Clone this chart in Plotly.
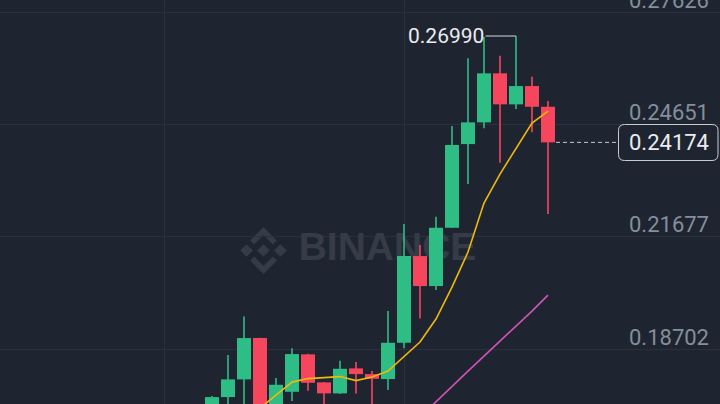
import plotly.graph_objects as go

# ---- data ----
idx = list(range(22))
opens = [0.17032, 0.17429, 0.17898, 0.18992, 0.16952, 0.17569, 0.18560, 0.17818, 0.17527, 0.18189, 0.18038,
         0.17906, 0.18867, 0.21163, 0.20369, 0.21913, 0.24129, 0.24704, 0.26002, 0.25181, 0.25665, 0.25117]
highs = [0.17456, 0.18541, 0.19566, 0.18998, 0.17932, 0.18719, 0.18575, 0.17826, 0.18390, 0.18356, 0.18118,
         0.19707, 0.22011, 0.21454, 0.22204, 0.24606, 0.26399, 0.26963, 0.26468, 0.26990, 0.25912, 0.25268]
lows = [0.16820, 0.17085, 0.17032, 0.16555, 0.16688, 0.17323, 0.17596, 0.17085, 0.17509, 0.17527, 0.16952,
        0.17614, 0.18719, 0.19513, 0.20263, 0.21905, 0.23070, 0.24545, 0.23634, 0.25056, 0.24439, 0.22275]
closes = [0.17429, 0.17898, 0.18992, 0.16820, 0.17755, 0.18568, 0.17808, 0.17527, 0.18179, 0.18038, 0.17914,
          0.18867, 0.21163, 0.20369, 0.21913, 0.24103, 0.24704, 0.26002, 0.25181, 0.25665, 0.25117, 0.24174]
ma7 = [None, None, 0.16820, 0.17138, 0.17482, 0.17826, 0.17919, 0.17946, 0.17972, 0.17866, 0.17959,
       0.18118, 0.18515, 0.18886, 0.19495, 0.20342, 0.21269, 0.22567, 0.23335, 0.24023, 0.24685, 0.25003]
ma25 = [None] * 13 + [0.16899, 0.17310, 0.17720, 0.18118, 0.18515, 0.18912, 0.19309, 0.19707, 0.20130]
tick_vals = [0.27626, 0.24651, 0.21677, 0.18702]
tick_labels = ["0.27626", "0.24651", "0.21677", "0.18702"]

W, H = 720, 404
BG = "#1f2530"
GRID = "#2b313b"
UP = "#2ebd85"
DOWN = "#f6465d"
XR = [-13.25, 31.75]
YR = [0.17246, 0.27944]

def X(px):
    return px / W

def Y(py):
    return 1 - py / H

fig = go.Figure()

# watermark on base axes (below data)
fig.add_trace(go.Scatter(x=[10.97], y=[0.21311], mode="text", text=["BINANCE"],
                         textfont=dict(family="Liberation Sans", size=39, color="#363c47", weight="bold"),
                         hoverinfo="skip", showlegend=False, xaxis="x", yaxis="y"))

colors = [UP if c >= o else DOWN for o, c in zip(opens, closes)]

# wicks
for col in (UP, DOWN):
    wx, wy = [], []
    for i, h, l, c in zip(idx, highs, lows, colors):
        if c == col:
            wx += [i, i, None]
            wy += [l, h, None]
    fig.add_trace(go.Scatter(x=wx, y=wy, mode="lines", line=dict(color=col, width=1.6),
                             hoverinfo="skip", showlegend=False, xaxis="x2", yaxis="y2"))

# bodies
fig.add_trace(go.Bar(x=idx, y=[abs(c - o) for o, c in zip(opens, closes)],
                     base=[min(o, c) for o, c in zip(opens, closes)],
                     width=0.875, marker=dict(color=colors, line=dict(width=0)),
                     showlegend=False, xaxis="x2", yaxis="y2"))

fig.add_trace(go.Scatter(x=idx, y=ma7, mode="lines", line=dict(color="#f0b90b", width=1.6),
                         showlegend=False, xaxis="x2", yaxis="y2"))
fig.add_trace(go.Scatter(x=idx, y=ma25, mode="lines", line=dict(color="#d152b8", width=1.6),
                         showlegend=False, xaxis="x2", yaxis="y2"))

shapes = []
# Binance logo (watermark)
cx, cy, s = 263.5, 250.5, 23.5
LOGO = "#363c47"

def poly(pts):
    d = "M " + " L ".join(f"{X(cx + px * s):.5f},{Y(cy + py * s):.5f}" for px, py in pts) + " Z"
    return dict(type="path", path=d, xref="paper", yref="paper", fillcolor=LOGO,
                line=dict(width=0), layer="below")

def diamond(dx, dy, r):
    return poly([(dx, dy - r), (dx + r, dy), (dx, dy + r), (dx - r, dy)])

shapes.append(diamond(0, 0, 0.27))
shapes.append(diamond(-0.72, 0, 0.27))
shapes.append(diamond(0.72, 0, 0.27))
shapes.append(poly([(0, -1), (0.57, -0.43), (0.4, -0.26), (0, -0.66), (-0.4, -0.26), (-0.57, -0.43)]))
shapes.append(poly([(0, 1), (0.57, 0.43), (0.4, 0.26), (0, 0.66), (-0.4, 0.26), (-0.57, 0.43)]))

# last price dashed line and box
last = closes[-1]
shapes.append(dict(type="line", xref="x2", yref="y2", x0=idx[-1] + 0.5, x1=idx[-1] + 4.3,
                   y0=last, y1=last, line=dict(color="#c8ccd2", width=1, dash="4px,3px")))
x0, x1, y0, y1, r = 618.5, 718, 124.5, 160.5, 6
path = (f"M {X(x0 + r)},{Y(y0)} L {X(x1 - r)},{Y(y0)} Q {X(x1)},{Y(y0)} {X(x1)},{Y(y0 + r)} "
        f"L {X(x1)},{Y(y1 - r)} Q {X(x1)},{Y(y1)} {X(x1 - r)},{Y(y1)} "
        f"L {X(x0 + r)},{Y(y1)} Q {X(x0)},{Y(y1)} {X(x0)},{Y(y1 - r)} "
        f"L {X(x0)},{Y(y0 + r)} Q {X(x0)},{Y(y0)} {X(x0 + r)},{Y(y0)} Z")
shapes.append(dict(type="path", path=path, xref="paper", yref="paper", fillcolor=BG,
                   line=dict(color="#c8ccd2", width=1)))

# high marker
hi_i = max(idx, key=lambda i: highs[i])
hi_v = highs[hi_i]
shapes.append(dict(type="line", xref="x2", yref="y2", x0=hi_i - 1.9, x1=hi_i, y0=hi_v, y1=hi_v,
                   line=dict(color="#b7bdc6", width=1.2)))

annotations = []
for v, t in zip(tick_vals, tick_labels):
    annotations.append(dict(x=X(711), xref="paper", y=v, yref="y", xanchor="right", yanchor="middle",
                            yshift=12, text=t, showarrow=False,
                            font=dict(family="Roboto", size=22, color="#848e9c")))
annotations.append(dict(x=X(668.5), xref="paper", y=last, yref="y", xanchor="center", yanchor="middle",
                        text=f"{last:.5f}", showarrow=False,
                        font=dict(family="Roboto", size=22, color="#eaecef")))
annotations.append(dict(x=hi_i - 1.9, xref="x", y=hi_v, yref="y", xanchor="right", yanchor="middle",
                        text=f"{hi_v:.5f}", showarrow=False,
                        font=dict(family="Roboto", size=21, color="#eaecef")))

fig.update_layout(
    width=W, height=H, margin=dict(l=0, r=0, t=0, b=0),
    paper_bgcolor=BG, plot_bgcolor=BG, barmode="overlay", showlegend=False,
    xaxis=dict(range=XR, tickvals=[-3, 12], showticklabels=False, showgrid=True, gridcolor=GRID,
               gridwidth=1, zeroline=False, showline=False, fixedrange=True),
    yaxis=dict(range=YR, tickvals=tick_vals, showticklabels=False, showgrid=True, gridcolor=GRID,
               gridwidth=1, zeroline=False, showline=False, fixedrange=True),
    xaxis2=dict(range=XR, overlaying="x", showticklabels=False, showgrid=False, zeroline=False,
                visible=False),
    yaxis2=dict(range=YR, overlaying="y", showticklabels=False, showgrid=False, zeroline=False,
                visible=False),
    shapes=shapes, annotations=annotations,
)

fig.write_html("out.html", config={"displayModeBar": False},
               post_script="document.body.style.margin='0';document.body.style.background='%s';" % BG)
